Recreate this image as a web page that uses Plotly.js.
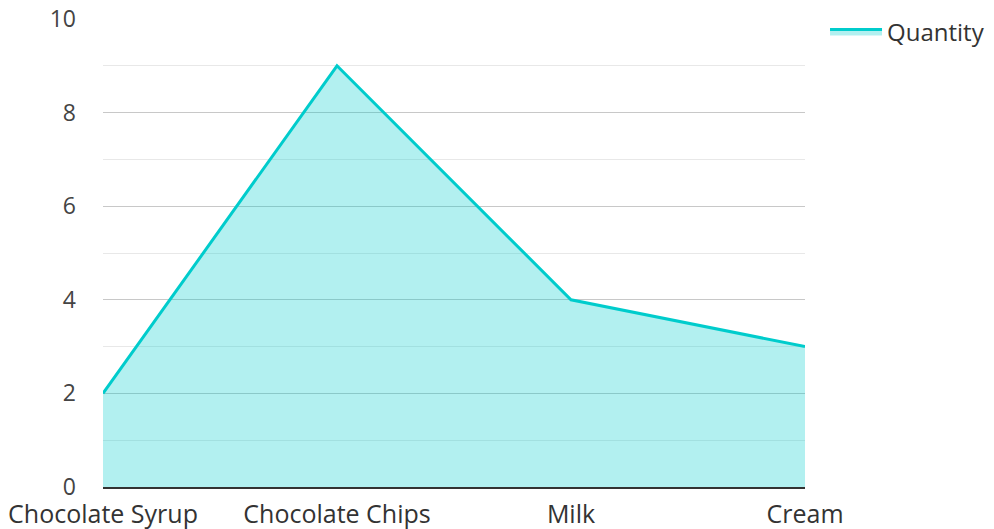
<!DOCTYPE html>
<html>
<head>
<meta charset="utf-8">
<script src="https://cdn.plot.ly/plotly-3.0.1.min.js"></script>
<style>html,body{margin:0;padding:0;background:#fff;}#chart{width:994px;height:529px;}</style>
</head>
<body>
<div id="chart"></div>
<script>
const categories = ["Chocolate Syrup", "Chocolate Chips", "Milk", "Cream"];
const quantity = [2, 9, 4, 3];
const seriesName = "Quantity";

const trace = {
  x: categories,
  y: quantity,
  name: seriesName,
  type: 'scatter',
  mode: 'lines',
  fill: 'tozeroy',
  fillcolor: 'rgba(0,204,204,0.3)',
  line: {color: '#00cccc', width: 3}
};

const layout = {
  width: 994,
  height: 529,
  margin: {l: 103, r: 189, t: 19, b: 42},
  paper_bgcolor: '#fff',
  plot_bgcolor: '#fff',
  font: {family: '"Open Sans", sans-serif', size: 24, color: '#333'},
  showlegend: true,
  legend: {xref: 'container', yref: 'container', x: 0.830, xanchor: 'left', y: 0.982, yanchor: 'top', font: {size: 24, color: '#333'}, bgcolor: 'rgba(0,0,0,0)', itemwidth: 52},
  xaxis: {
    type: 'category',
    range: [0, 3],
    automargin: false,
    showgrid: false,
    showline: true,
    linecolor: '#333',
    linewidth: 2,
    ticks: '',
    ticklabelstandoff: 4,
    tickfont: {size: 25, color: '#333'},
    zeroline: false,
    fixedrange: true
  },
  yaxis: {
    range: [0, 10],
    automargin: false,
    dtick: 2,
    tick0: 0,
    showgrid: true,
    gridcolor: '#c8c8c8',
    gridwidth: 1,
    zeroline: false,
    showline: false,
    ticks: '',
    ticklabelstandoff: 26,
    tickfont: {size: 23, color: '#444'},
    minor: {dtick: 1, showgrid: true, gridcolor: '#e8e8e8', gridwidth: 1},
    fixedrange: true
  }
};

Plotly.newPlot('chart', [trace], layout, {displayModeBar: false, staticPlot: true});
</script>
</body>
</html>
